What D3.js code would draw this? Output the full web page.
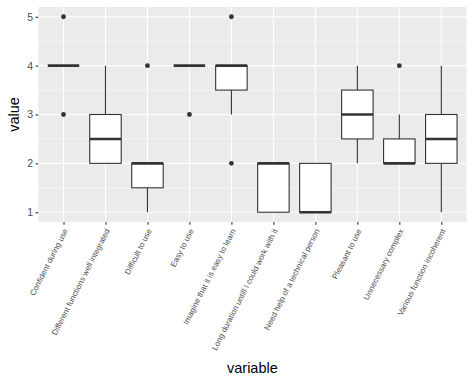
<!DOCTYPE html>
<html>
<head>
<meta charset="utf-8">
<script src="https://cdn.jsdelivr.net/npm/d3@7"></script>
<style>
  body { margin: 0; background: #fff; }
  svg { font-family: "Liberation Sans", Arial, sans-serif; display: block; }
</style>
</head>
<body>
<svg id="chart" width="474" height="379"></svg>
<script>
const categories = [
  "Confident during use",
  "Different functions well integrated",
  "Difficult to use",
  "Easy to use",
  "Imagine that it is easy to learn",
  "Long duration untill I could work with it",
  "Need help of a technical person",
  "Pleasant to use",
  "Unnecessary complex",
  "Various function incoherent"
];
const whiskerLow  = [4, 2,   1,   4, 3,   1, 1, 2,   2,   1];
const q1          = [4, 2,   1.5, 4, 3.5, 1, 1, 2.5, 2,   2];
const medians     = [4, 2.5, 2,   4, 4,   2, 1, 3,   2,   2.5];
const q3          = [4, 3,   2,   4, 4,   2, 2, 3.5, 2.5, 3];
const whiskerHigh = [4, 4,   2,   4, 4,   2, 2, 4,   3,   4];
const outliers    = [[5, 3], [], [4], [3], [5, 2], [], [], [], [4], []];
const yTicks = [1, 2, 3, 4, 5];
const yMinor = [1.5, 2.5, 3.5, 4.5];

const svg = d3.select("#chart");
const margin = {left: 38.3, right: 7.5, top: 7, bottom: 157};
const W = 474, H = 379;

// ggplot discrete axis: 0.6 unit expansion each side
const step = (W - margin.right - margin.left) / (categories.length + 0.2);
const xc = d3.scalePoint()
  .domain(categories)
  .range([margin.left + 0.6 * step, W - margin.right - 0.6 * step]);
const boxW = 0.75 * step;

const y = d3.scaleLinear()
  .domain([0.8, 5.2])
  .range([H - margin.bottom, margin.top]);

const g = svg.append("g");
g.append("rect")
  .attr("x", margin.left).attr("y", margin.top)
  .attr("width", W - margin.left - margin.right)
  .attr("height", H - margin.top - margin.bottom)
  .attr("fill", "#EBEBEB");

g.selectAll(".minor").data(yMinor).join("line")
  .attr("x1", margin.left).attr("x2", W - margin.right)
  .attr("y1", d => y(d)).attr("y2", d => y(d))
  .attr("stroke", "#fff").attr("stroke-width", 0.55);
g.selectAll(".majory").data(yTicks).join("line")
  .attr("x1", margin.left).attr("x2", W - margin.right)
  .attr("y1", d => y(d)).attr("y2", d => y(d))
  .attr("stroke", "#fff").attr("stroke-width", 1.1);
g.selectAll(".majorx").data(categories).join("line")
  .attr("x1", d => xc(d)).attr("x2", d => xc(d))
  .attr("y1", margin.top).attr("y2", H - margin.bottom)
  .attr("stroke", "#fff").attr("stroke-width", 1.1);

const ink = "#333333";
const boxes = g.selectAll(".box").data(categories).join("g");
// whiskers
boxes.append("line")
  .attr("x1", d => xc(d)).attr("x2", d => xc(d))
  .attr("y1", (d, i) => y(whiskerHigh[i])).attr("y2", (d, i) => y(q3[i]))
  .attr("stroke", ink).attr("stroke-width", 1.1);
boxes.append("line")
  .attr("x1", d => xc(d)).attr("x2", d => xc(d))
  .attr("y1", (d, i) => y(q1[i])).attr("y2", (d, i) => y(whiskerLow[i]))
  .attr("stroke", ink).attr("stroke-width", 1.1);
boxes.append("rect")
  .attr("x", d => xc(d) - boxW / 2)
  .attr("y", (d, i) => y(q3[i]))
  .attr("width", boxW)
  .attr("height", (d, i) => y(q1[i]) - y(q3[i]))
  .attr("fill", "#fff").attr("stroke", ink).attr("stroke-width", 1.1);
boxes.append("line")
  .attr("x1", d => xc(d) - boxW / 2).attr("x2", d => xc(d) + boxW / 2)
  .attr("y1", (d, i) => y(medians[i])).attr("y2", (d, i) => y(medians[i]))
  .attr("stroke", ink).attr("stroke-width", 2.6);

const pts = outliers.flatMap((vals, i) => vals.map(v => ({c: categories[i], v})));
g.selectAll(".out").data(pts).join("circle")
  .attr("cx", d => xc(d.c)).attr("cy", d => y(d.v))
  .attr("r", 2.4).attr("fill", ink);

// y axis
const yAxis = d3.axisLeft(y).tickValues(yTicks).tickFormat(d3.format("d"))
  .tickSize(2.75).tickPadding(2.5);
const ya = svg.append("g").attr("transform", `translate(${margin.left},0)`).call(yAxis);
ya.select(".domain").remove();
ya.selectAll(".tick line").attr("stroke", ink).attr("stroke-width", 1.1);
ya.selectAll(".tick text").attr("fill", "#4D4D4D").attr("font-size", 10.5)
  .attr("font-family", "Liberation Sans, Arial, sans-serif");

// x axis
const xAxis = d3.axisBottom(xc).tickSize(2.75).tickSizeOuter(0);
const xa = svg.append("g").attr("transform", `translate(0,${H - margin.bottom})`).call(xAxis);
xa.select(".domain").remove();
xa.selectAll(".tick line").attr("stroke", ink).attr("stroke-width", 1.1);
xa.selectAll(".tick text")
  .attr("fill", "#4D4D4D").attr("font-size", 8)
  .attr("font-family", "Liberation Sans, Arial, sans-serif")
  .attr("text-anchor", "end")
  .attr("dy", 0).attr("y", 0)
  .attr("transform", "translate(4,8.5) rotate(-63)");

svg.append("text")
  .attr("x", (margin.left + W - margin.right) / 2).attr("y", 373)
  .attr("text-anchor", "middle").attr("font-size", 14.5).attr("fill", "#000")
  .text("variable");
svg.append("text")
  .attr("transform", `translate(18.5,${(margin.top + H - margin.bottom) / 2}) rotate(-90)`)
  .attr("text-anchor", "middle").attr("font-size", 14.5).attr("fill", "#000")
  .text("value");
</script>
</body>
</html>
